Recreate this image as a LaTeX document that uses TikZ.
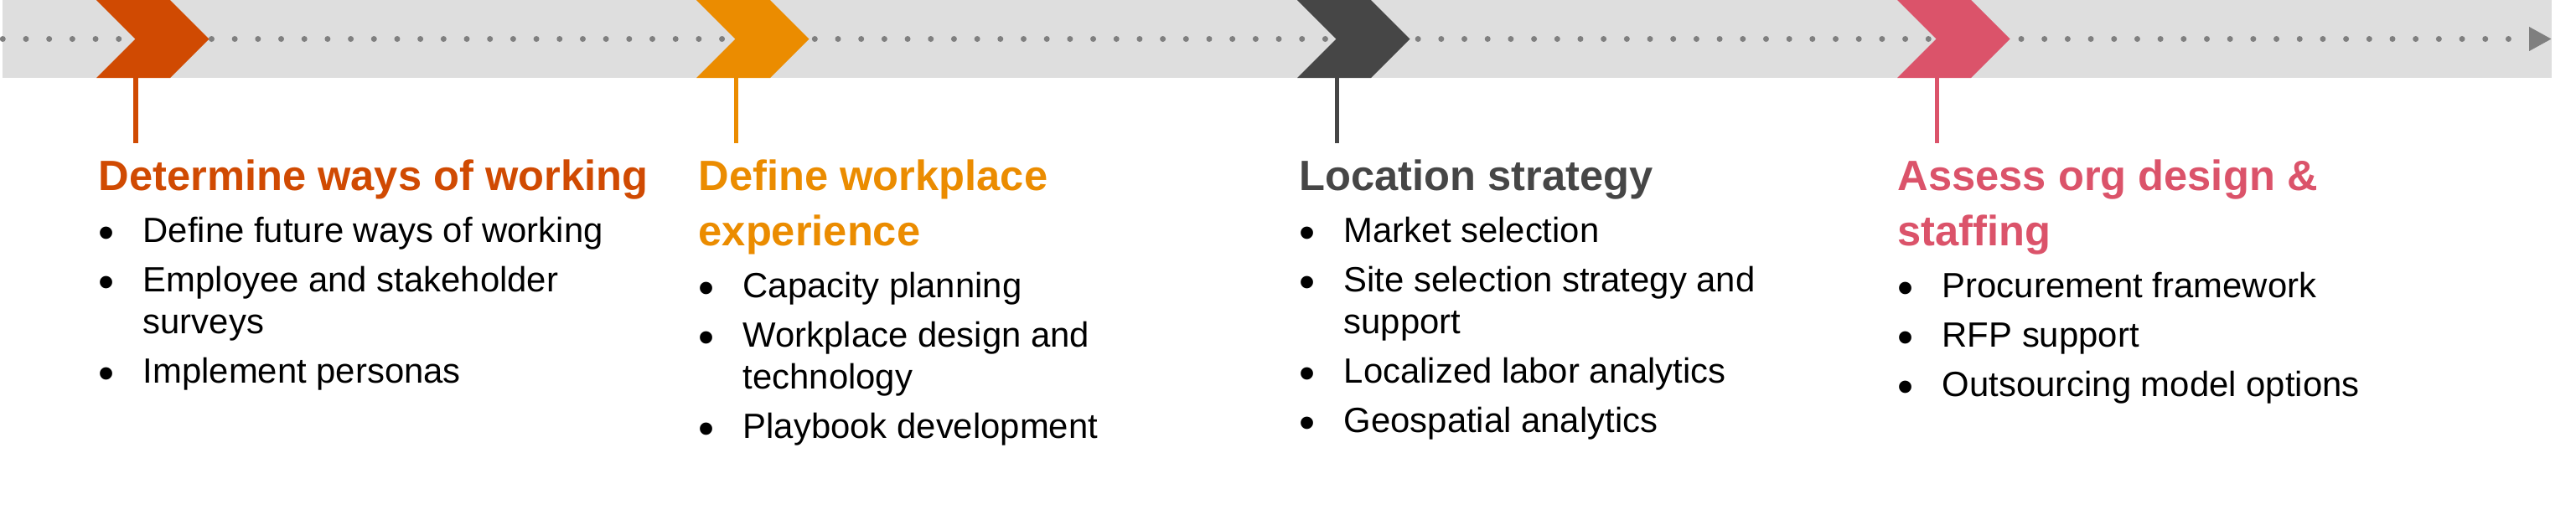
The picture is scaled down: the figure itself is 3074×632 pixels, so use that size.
\documentclass[tikz,border=0pt]{standalone}
\usepackage{fontspec}
\setmainfont{Liberation Sans}
\usepackage{graphicx}
\usetikzlibrary{positioning,arrows.meta}
\definecolor{BandGray}{HTML}{DEDEDE}
\definecolor{DotGray}{HTML}{7F7F7F}
\definecolor{Tangerine}{HTML}{D04A02}
\definecolor{Amber}{HTML}{EB8C00}
\definecolor{Charcoal}{HTML}{464646}
\definecolor{Rose}{HTML}{DB536A}
\newcommand{\bul}{\raisebox{-0.17em}{\scalebox{1.3}{\textbullet}}}

\begin{document}
\begin{tikzpicture}[
    x=0.01cm, y=-0.01cm,
    every node/.style={inner sep=0pt},
    phase/.style={anchor=north west, align=left, font=\fontsize{14.4}{18.8}\selectfont\bfseries},
    items/.style={font=\fontsize{11.9}{14.2}\selectfont},
    tick/.style={line width=0.05cm, shorten >=0.19cm},
    timeline/.style={DotGray, line width=0.07cm, line cap=round, dash pattern=on 0pt off 0.2767cm, -{Triangle[length=0.27cm,width=0.27cm]}}
  ]
  \useasboundingbox (0,0) rectangle (3074,632);

  % band with dotted arrow
  \fill[BandGray] (3,0) rectangle (3045,93);
  \coordinate (start) at (3.3,46.5);
  \coordinate (end) at (3045,46.5);
  \draw[timeline] (start) -- (end);

  % chevrons
  \foreach \x/\col [count=\i] in {115/Tangerine, 831/Amber, 1548/Charcoal, 2264/Rose}{
    \fill[\col] (\x,0) -- ++(88,0) -- ++(46.5,46.5) -- ++(-46.5,46.5) -- ++(-88,0) -- ++(46.5,-46.5) -- cycle;
    \coordinate (c\i) at (\x+47,93);
  }

  % phase titles
  \node[phase, text=Tangerine] (t1) at (117,190) {Determine ways of working};
  \node[phase, text=Amber] (t2) at (833,190) {Define workplace\\experience};
  \node[phase, text=Charcoal] (t3) at (1550,190) {Location strategy};
  \node[phase, text=Rose] (t4) at (2264,190) {Assess org design \&\\staffing};

  \draw[tick, Tangerine] (c1) -- (c1 |- t1.north);
  \draw[tick, Amber] (c2) -- (c2 |- t2.north);
  \draw[tick, Charcoal] (c3) -- (c3 |- t3.north);
  \draw[tick, Rose] (c4) -- (c4 |- t4.north);

  % bullet lists
  \node[items, below=0.15cm of t1.south west, anchor=north west] (l1) {\begin{tabular}{@{}l@{\hspace{0.34cm}}l@{}}
    \bul & Define future ways of working\\[2.6pt]
    \bul & Employee and stakeholder\\
         & surveys\\[2.6pt]
    \bul & Implement personas
  \end{tabular}};
  \node[items, below=0.15cm of t2.south west, anchor=north west] (l2) {\begin{tabular}{@{}l@{\hspace{0.34cm}}l@{}}
    \bul & Capacity planning\\[2.6pt]
    \bul & Workplace design and\\
         & technology\\[2.6pt]
    \bul & Playbook development
  \end{tabular}};
  \node[items, below=0.15cm of t3.south west, anchor=north west] (l3) {\begin{tabular}{@{}l@{\hspace{0.34cm}}l@{}}
    \bul & Market selection\\[2.6pt]
    \bul & Site selection strategy and\\
         & support\\[2.6pt]
    \bul & Localized labor analytics\\[2.6pt]
    \bul & Geospatial analytics
  \end{tabular}};
  \node[items, below=0.15cm of t4.south west, anchor=north west] (l4) {\begin{tabular}{@{}l@{\hspace{0.34cm}}l@{}}
    \bul & Procurement framework\\[2.6pt]
    \bul & RFP support\\[2.6pt]
    \bul & Outsourcing model options
  \end{tabular}};
\end{tikzpicture}
\end{document}
